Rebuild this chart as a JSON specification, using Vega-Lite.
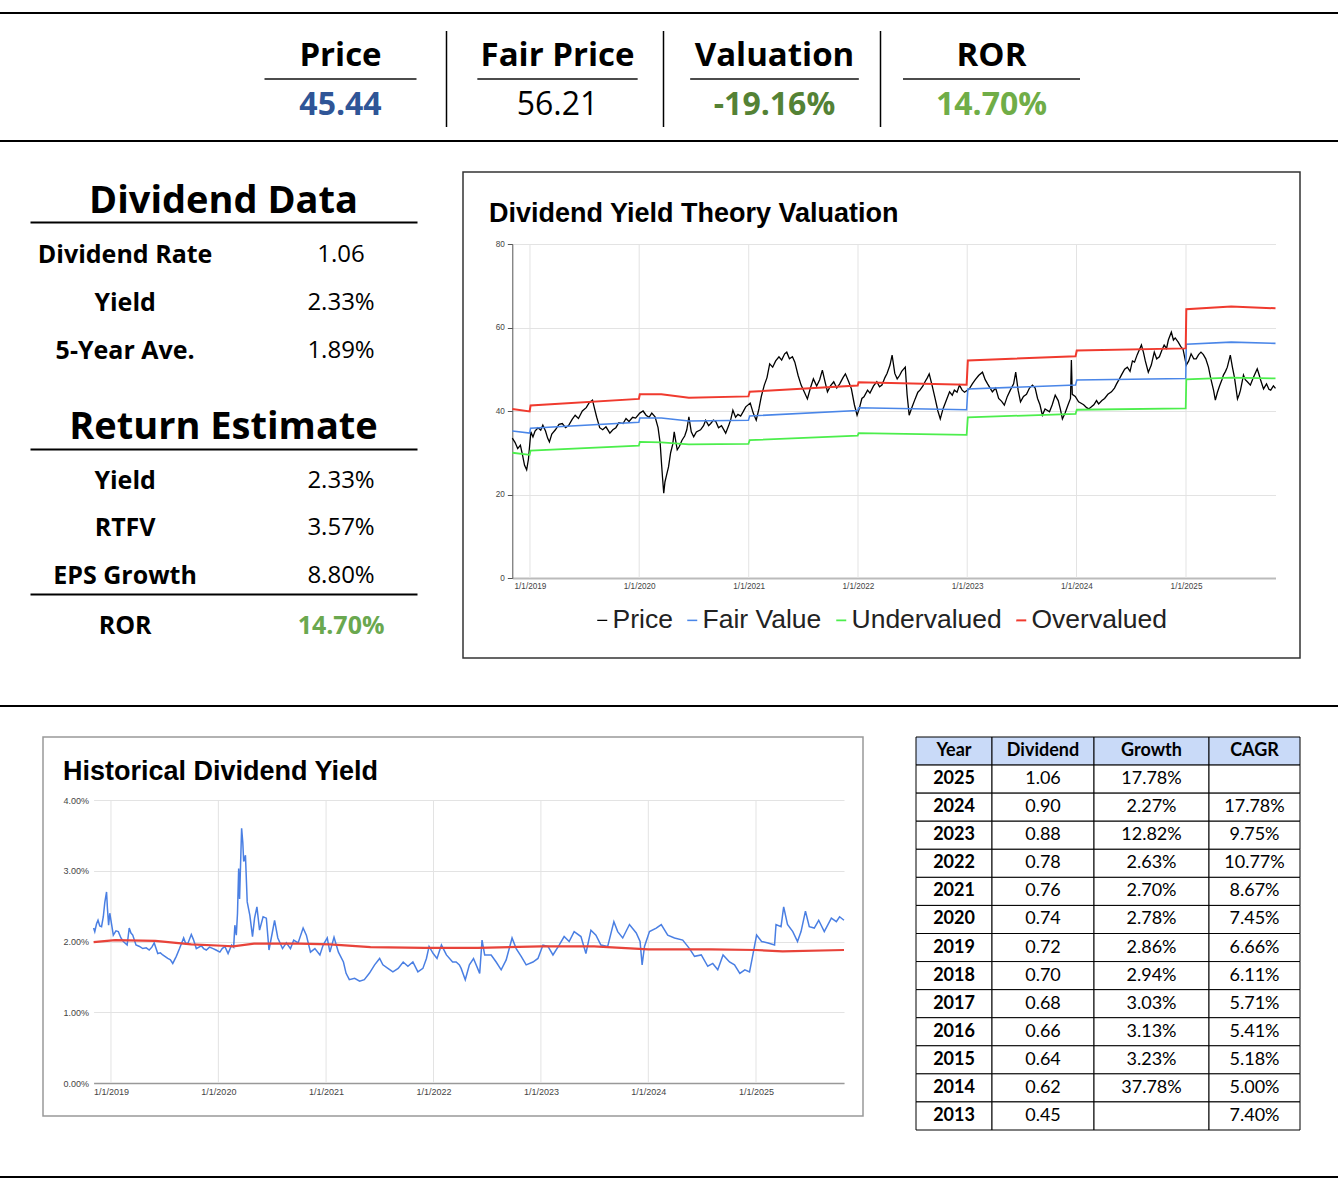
{
  "$schema": "https://vega.github.io/schema/vega-lite/v6.json",
  "padding": 0,
  "background": "white",
  "spacing": 0,
  "bounds": "full",
  "resolve": {"scale": {"color": "independent", "size": "independent", "strokeWidth": "independent"}, "legend": {"color": "independent"}},
  "config": {"view": {"stroke": null}, "font": "Liberation Sans"},
  "datasets": {
    "header": [
      {"metric": "Price", "value": "45.44"},
      {"metric": "Fair Price", "value": "56.21"},
      {"metric": "Valuation", "value": "-19.16%"},
      {"metric": "ROR", "value": "14.70%"}
    ],
    "dividendData": [
      {"section": "Dividend Data", "item": "Dividend Rate", "value": "1.06"},
      {"section": "Dividend Data", "item": "Yield", "value": "2.33%"},
      {"section": "Dividend Data", "item": "5-Year Ave.", "value": "1.89%"},
      {"section": "Return Estimate", "item": "Yield", "value": "2.33%"},
      {"section": "Return Estimate", "item": "RTFV", "value": "3.57%"},
      {"section": "Return Estimate", "item": "EPS Growth", "value": "8.80%"},
      {"section": "Total", "item": "ROR", "value": "14.70%"}
    ],
    "yearStarts": [
      {"date": "2019-01-01"}, {"date": "2020-01-01"}, {"date": "2021-01-01"}, {"date": "2022-01-01"}, {"date": "2023-01-01"}, {"date": "2024-01-01"}, {"date": "2025-01-01"}
    ],
    "dyt": [
      {"series":"Price","date":"2018-11-03","value":33.5},{"series":"Price","date":"2018-11-12","value":32.5},{"series":"Price","date":"2018-11-21","value":31},{"series":"Price","date":"2018-11-30","value":31.8},{"series":"Price","date":"2018-12-07","value":29.5},{"series":"Price","date":"2018-12-14","value":27},{"series":"Price","date":"2018-12-21","value":25.9},{"series":"Price","date":"2018-12-27","value":28.5},
      {"series":"Price","date":"2019-01-04","value":35},{"series":"Price","date":"2019-01-11","value":33.8},{"series":"Price","date":"2019-01-18","value":35.2},{"series":"Price","date":"2019-01-28","value":36},{"series":"Price","date":"2019-02-06","value":35.4},{"series":"Price","date":"2019-02-13","value":36.6},{"series":"Price","date":"2019-02-22","value":35.2},{"series":"Price","date":"2019-03-01","value":33.5},{"series":"Price","date":"2019-03-07","value":32.6},{"series":"Price","date":"2019-03-15","value":34.5},{"series":"Price","date":"2019-03-27","value":35.5},{"series":"Price","date":"2019-04-08","value":36.8},{"series":"Price","date":"2019-04-19","value":37},{"series":"Price","date":"2019-04-30","value":36},{"series":"Price","date":"2019-05-10","value":36.5},{"series":"Price","date":"2019-05-22","value":38},{"series":"Price","date":"2019-06-01","value":39},{"series":"Price","date":"2019-06-12","value":38.2},{"series":"Price","date":"2019-06-25","value":40},{"series":"Price","date":"2019-07-08","value":40.8},{"series":"Price","date":"2019-07-18","value":42},{"series":"Price","date":"2019-07-29","value":42.6},{"series":"Price","date":"2019-08-05","value":40.5},{"series":"Price","date":"2019-08-12","value":38.5},{"series":"Price","date":"2019-08-22","value":36},{"series":"Price","date":"2019-09-01","value":35.5},{"series":"Price","date":"2019-09-12","value":36.2},{"series":"Price","date":"2019-09-25","value":34.7},{"series":"Price","date":"2019-10-05","value":35.5},{"series":"Price","date":"2019-10-15","value":36},{"series":"Price","date":"2019-10-25","value":37.2},{"series":"Price","date":"2019-11-08","value":37},{"series":"Price","date":"2019-11-18","value":38.2},{"series":"Price","date":"2019-11-28","value":37.5},{"series":"Price","date":"2019-12-10","value":38.5},{"series":"Price","date":"2019-12-20","value":38.3},
      {"series":"Price","date":"2020-01-03","value":39.5},{"series":"Price","date":"2020-01-14","value":40},{"series":"Price","date":"2020-01-24","value":39},{"series":"Price","date":"2020-02-03","value":38.5},{"series":"Price","date":"2020-02-12","value":39.5},{"series":"Price","date":"2020-02-23","value":38.6},{"series":"Price","date":"2020-03-04","value":36},{"series":"Price","date":"2020-03-11","value":32.3},{"series":"Price","date":"2020-03-16","value":27},{"series":"Price","date":"2020-03-19","value":24},{"series":"Price","date":"2020-03-23","value":20.3},{"series":"Price","date":"2020-03-27","value":23},{"series":"Price","date":"2020-04-01","value":24.5},{"series":"Price","date":"2020-04-08","value":26.6},{"series":"Price","date":"2020-04-15","value":30},{"series":"Price","date":"2020-04-22","value":32},{"series":"Price","date":"2020-04-27","value":35},{"series":"Price","date":"2020-05-07","value":30.7},{"series":"Price","date":"2020-05-14","value":31.5},{"series":"Price","date":"2020-05-23","value":33},{"series":"Price","date":"2020-06-01","value":34},{"series":"Price","date":"2020-06-08","value":35.5},{"series":"Price","date":"2020-06-15","value":38.6},{"series":"Price","date":"2020-06-23","value":35},{"series":"Price","date":"2020-07-01","value":33.8},{"series":"Price","date":"2020-07-10","value":35},{"series":"Price","date":"2020-07-24","value":35.5},{"series":"Price","date":"2020-08-03","value":36.5},{"series":"Price","date":"2020-08-10","value":37.8},{"series":"Price","date":"2020-08-20","value":36.5},{"series":"Price","date":"2020-08-27","value":37},{"series":"Price","date":"2020-09-05","value":37.8},{"series":"Price","date":"2020-09-13","value":37.5},{"series":"Price","date":"2020-09-22","value":36},{"series":"Price","date":"2020-10-02","value":36.5},{"series":"Price","date":"2020-10-16","value":34.7},{"series":"Price","date":"2020-10-26","value":36.5},{"series":"Price","date":"2020-11-02","value":38},{"series":"Price","date":"2020-11-09","value":40.2},{"series":"Price","date":"2020-11-18","value":38.5},{"series":"Price","date":"2020-11-26","value":39.2},{"series":"Price","date":"2020-12-05","value":38.8},{"series":"Price","date":"2020-12-13","value":39.8},{"series":"Price","date":"2020-12-22","value":41},
      {"series":"Price","date":"2021-01-06","value":41.9},{"series":"Price","date":"2021-01-16","value":39.5},{"series":"Price","date":"2021-01-26","value":37.8},{"series":"Price","date":"2021-02-04","value":40.5},{"series":"Price","date":"2021-02-12","value":43.5},{"series":"Price","date":"2021-02-22","value":46.2},{"series":"Price","date":"2021-03-03","value":48},{"series":"Price","date":"2021-03-12","value":51.3},{"series":"Price","date":"2021-03-22","value":50.5},{"series":"Price","date":"2021-04-01","value":52},{"series":"Price","date":"2021-04-12","value":53},{"series":"Price","date":"2021-04-21","value":52.2},{"series":"Price","date":"2021-05-01","value":53.7},{"series":"Price","date":"2021-05-08","value":54.1},{"series":"Price","date":"2021-05-17","value":52.5},{"series":"Price","date":"2021-05-27","value":53},{"series":"Price","date":"2021-06-04","value":51.7},{"series":"Price","date":"2021-06-15","value":48.5},{"series":"Price","date":"2021-06-25","value":46.2},{"series":"Price","date":"2021-07-06","value":44.5},{"series":"Price","date":"2021-07-16","value":42.9},{"series":"Price","date":"2021-07-26","value":45.5},{"series":"Price","date":"2021-08-05","value":47.7},{"series":"Price","date":"2021-08-16","value":46},{"series":"Price","date":"2021-08-26","value":47.5},{"series":"Price","date":"2021-09-04","value":49.8},{"series":"Price","date":"2021-09-13","value":47},{"series":"Price","date":"2021-09-21","value":44.6},{"series":"Price","date":"2021-10-01","value":46},{"series":"Price","date":"2021-10-12","value":47},{"series":"Price","date":"2021-10-22","value":45.5},{"series":"Price","date":"2021-11-01","value":46.5},{"series":"Price","date":"2021-11-12","value":48},{"series":"Price","date":"2021-11-20","value":48.9},{"series":"Price","date":"2021-12-01","value":47},{"series":"Price","date":"2021-12-10","value":45.3},{"series":"Price","date":"2021-12-20","value":41.5},{"series":"Price","date":"2021-12-29","value":39},
      {"series":"Price","date":"2022-01-05","value":40.5},{"series":"Price","date":"2022-01-14","value":43},{"series":"Price","date":"2022-01-21","value":43.4},{"series":"Price","date":"2022-02-02","value":45},{"series":"Price","date":"2022-02-10","value":44.3},{"series":"Price","date":"2022-02-22","value":46},{"series":"Price","date":"2022-03-05","value":47},{"series":"Price","date":"2022-03-14","value":45.8},{"series":"Price","date":"2022-03-22","value":46.2},{"series":"Price","date":"2022-04-01","value":48},{"series":"Price","date":"2022-04-08","value":49},{"series":"Price","date":"2022-04-18","value":51},{"series":"Price","date":"2022-04-25","value":53.4},{"series":"Price","date":"2022-05-04","value":49},{"series":"Price","date":"2022-05-12","value":47.7},{"series":"Price","date":"2022-05-20","value":48.5},{"series":"Price","date":"2022-05-27","value":49.5},{"series":"Price","date":"2022-06-08","value":50.5},{"series":"Price","date":"2022-06-14","value":44},{"series":"Price","date":"2022-06-21","value":39},{"series":"Price","date":"2022-07-01","value":41},{"series":"Price","date":"2022-07-11","value":42.9},{"series":"Price","date":"2022-07-20","value":44.5},{"series":"Price","date":"2022-07-27","value":45},{"series":"Price","date":"2022-08-06","value":46},{"series":"Price","date":"2022-08-13","value":47},{"series":"Price","date":"2022-08-21","value":48},{"series":"Price","date":"2022-08-27","value":48.9},{"series":"Price","date":"2022-09-06","value":46},{"series":"Price","date":"2022-09-16","value":42.9},{"series":"Price","date":"2022-09-25","value":40},{"series":"Price","date":"2022-10-03","value":38.1},{"series":"Price","date":"2022-10-12","value":40.5},{"series":"Price","date":"2022-10-20","value":42},{"series":"Price","date":"2022-11-03","value":44.6},{"series":"Price","date":"2022-11-12","value":43.8},{"series":"Price","date":"2022-11-19","value":45},{"series":"Price","date":"2022-11-28","value":44.5},{"series":"Price","date":"2022-12-06","value":46.2},{"series":"Price","date":"2022-12-15","value":45},{"series":"Price","date":"2022-12-23","value":44.5},
      {"series":"Price","date":"2023-01-08","value":45.3},{"series":"Price","date":"2023-01-18","value":46.5},{"series":"Price","date":"2023-01-28","value":47.5},{"series":"Price","date":"2023-02-08","value":48.5},{"series":"Price","date":"2023-02-21","value":49.3},{"series":"Price","date":"2023-03-02","value":47.5},{"series":"Price","date":"2023-03-10","value":46.5},{"series":"Price","date":"2023-03-26","value":44.6},{"series":"Price","date":"2023-04-06","value":45.5},{"series":"Price","date":"2023-04-16","value":43},{"series":"Price","date":"2023-04-26","value":42.3},{"series":"Price","date":"2023-05-05","value":41.4},{"series":"Price","date":"2023-05-15","value":43.5},{"series":"Price","date":"2023-05-25","value":45},{"series":"Price","date":"2023-06-05","value":46.5},{"series":"Price","date":"2023-06-12","value":49.3},{"series":"Price","date":"2023-06-20","value":45},{"series":"Price","date":"2023-06-28","value":42.2},{"series":"Price","date":"2023-07-08","value":43.5},{"series":"Price","date":"2023-07-18","value":44},{"series":"Price","date":"2023-07-28","value":45.5},{"series":"Price","date":"2023-08-07","value":46.2},{"series":"Price","date":"2023-08-16","value":45.5},{"series":"Price","date":"2023-08-24","value":43},{"series":"Price","date":"2023-09-01","value":41.5},{"series":"Price","date":"2023-09-09","value":39},{"series":"Price","date":"2023-09-18","value":40.5},{"series":"Price","date":"2023-10-03","value":39.8},{"series":"Price","date":"2023-10-12","value":41.5},{"series":"Price","date":"2023-10-22","value":43.8},{"series":"Price","date":"2023-11-01","value":42.5},{"series":"Price","date":"2023-11-08","value":40.5},{"series":"Price","date":"2023-11-15","value":38.1},{"series":"Price","date":"2023-11-24","value":39.5},{"series":"Price","date":"2023-12-04","value":41.5},{"series":"Price","date":"2023-12-12","value":43},{"series":"Price","date":"2023-12-15","value":52.2},{"series":"Price","date":"2023-12-18","value":44},{"series":"Price","date":"2023-12-28","value":43.5},
      {"series":"Price","date":"2024-01-08","value":42.2},{"series":"Price","date":"2024-01-18","value":41.8},{"series":"Price","date":"2024-01-25","value":41.5},{"series":"Price","date":"2024-02-04","value":40.8},{"series":"Price","date":"2024-02-11","value":40.5},{"series":"Price","date":"2024-02-20","value":41},{"series":"Price","date":"2024-02-28","value":41.5},{"series":"Price","date":"2024-03-08","value":42.5},{"series":"Price","date":"2024-03-15","value":41.7},{"series":"Price","date":"2024-03-26","value":42.5},{"series":"Price","date":"2024-04-04","value":43},{"series":"Price","date":"2024-04-15","value":44},{"series":"Price","date":"2024-04-27","value":44.6},{"series":"Price","date":"2024-05-07","value":45.5},{"series":"Price","date":"2024-05-14","value":46.5},{"series":"Price","date":"2024-05-22","value":47.5},{"series":"Price","date":"2024-05-30","value":48.6},{"series":"Price","date":"2024-06-10","value":50},{"series":"Price","date":"2024-06-19","value":50.5},{"series":"Price","date":"2024-06-28","value":49.5},{"series":"Price","date":"2024-07-06","value":52},{"series":"Price","date":"2024-07-13","value":51.7},{"series":"Price","date":"2024-07-22","value":53.5},{"series":"Price","date":"2024-08-05","value":55.8},{"series":"Price","date":"2024-08-12","value":54},{"series":"Price","date":"2024-08-18","value":52},{"series":"Price","date":"2024-08-28","value":49.3},{"series":"Price","date":"2024-09-07","value":51},{"series":"Price","date":"2024-09-17","value":54.1},{"series":"Price","date":"2024-09-25","value":52.5},{"series":"Price","date":"2024-10-04","value":53},{"series":"Price","date":"2024-10-12","value":54.5},{"series":"Price","date":"2024-10-20","value":55.8},{"series":"Price","date":"2024-10-28","value":55},{"series":"Price","date":"2024-11-03","value":57},{"series":"Price","date":"2024-11-13","value":58.9},{"series":"Price","date":"2024-11-20","value":57},{"series":"Price","date":"2024-11-26","value":57.5},{"series":"Price","date":"2024-12-06","value":56.5},{"series":"Price","date":"2024-12-14","value":55.5},{"series":"Price","date":"2024-12-22","value":54.8},
      {"series":"Price","date":"2025-01-02","value":51},{"series":"Price","date":"2025-01-10","value":52},{"series":"Price","date":"2025-01-18","value":53.7},{"series":"Price","date":"2025-01-27","value":52.5},{"series":"Price","date":"2025-02-04","value":52.5},{"series":"Price","date":"2025-02-12","value":53.5},{"series":"Price","date":"2025-02-20","value":54.1},{"series":"Price","date":"2025-02-28","value":53.5},{"series":"Price","date":"2025-03-08","value":52.5},{"series":"Price","date":"2025-03-17","value":50.5},{"series":"Price","date":"2025-03-25","value":47.7},{"series":"Price","date":"2025-04-03","value":45},{"series":"Price","date":"2025-04-09","value":42.6},{"series":"Price","date":"2025-04-16","value":44.5},{"series":"Price","date":"2025-04-23","value":46},{"series":"Price","date":"2025-05-01","value":47.5},{"series":"Price","date":"2025-05-06","value":48.6},{"series":"Price","date":"2025-05-13","value":49.5},{"series":"Price","date":"2025-05-19","value":50.5},{"series":"Price","date":"2025-05-29","value":53.4},{"series":"Price","date":"2025-06-05","value":50.5},{"series":"Price","date":"2025-06-12","value":48},{"series":"Price","date":"2025-06-22","value":42.9},{"series":"Price","date":"2025-06-28","value":44},{"series":"Price","date":"2025-07-02","value":45},{"series":"Price","date":"2025-07-12","value":48.6},{"series":"Price","date":"2025-07-18","value":47.5},{"series":"Price","date":"2025-07-25","value":47},{"series":"Price","date":"2025-08-04","value":46.2},{"series":"Price","date":"2025-08-11","value":47.5},{"series":"Price","date":"2025-08-17","value":48.5},{"series":"Price","date":"2025-08-27","value":50.1},{"series":"Price","date":"2025-09-03","value":48.5},{"series":"Price","date":"2025-09-07","value":47.5},{"series":"Price","date":"2025-09-17","value":45.3},{"series":"Price","date":"2025-09-27","value":46.5},{"series":"Price","date":"2025-10-05","value":45.2},{"series":"Price","date":"2025-10-11","value":45},{"series":"Price","date":"2025-10-20","value":46},{"series":"Price","date":"2025-10-27","value":45.4},
      {"series":"Fair Value","date":"2018-11-03","value":35.2},{"series":"Fair Value","date":"2018-12-31","value":34.7},{"series":"Fair Value","date":"2019-01-03","value":35.9},{"series":"Fair Value","date":"2019-12-31","value":37.3},{"series":"Fair Value","date":"2020-01-03","value":38.3},{"series":"Fair Value","date":"2020-03-15","value":38.3},{"series":"Fair Value","date":"2020-06-15","value":37.6},{"series":"Fair Value","date":"2020-12-31","value":37.8},{"series":"Fair Value","date":"2021-01-04","value":38.8},{"series":"Fair Value","date":"2021-12-31","value":40.1},{"series":"Fair Value","date":"2022-01-03","value":40.8},{"series":"Fair Value","date":"2022-12-30","value":40.3},{"series":"Fair Value","date":"2023-01-03","value":45.3},{"series":"Fair Value","date":"2023-12-29","value":46.2},{"series":"Fair Value","date":"2024-01-02","value":47.4},{"series":"Fair Value","date":"2024-12-31","value":47.8},{"series":"Fair Value","date":"2025-01-02","value":56.0},{"series":"Fair Value","date":"2025-06-01","value":56.5},{"series":"Fair Value","date":"2025-10-27","value":56.2},
      {"series":"Undervalued","date":"2018-11-03","value":30.0},{"series":"Undervalued","date":"2018-12-31","value":29.5},{"series":"Undervalued","date":"2019-01-03","value":30.5},{"series":"Undervalued","date":"2019-12-31","value":31.7},{"series":"Undervalued","date":"2020-01-03","value":32.6},{"series":"Undervalued","date":"2020-03-15","value":32.5},{"series":"Undervalued","date":"2020-06-15","value":32.0},{"series":"Undervalued","date":"2020-12-31","value":32.1},{"series":"Undervalued","date":"2021-01-04","value":33.0},{"series":"Undervalued","date":"2021-12-31","value":34.1},{"series":"Undervalued","date":"2022-01-03","value":34.7},{"series":"Undervalued","date":"2022-12-30","value":34.3},{"series":"Undervalued","date":"2023-01-03","value":38.5},{"series":"Undervalued","date":"2023-12-29","value":39.3},{"series":"Undervalued","date":"2024-01-02","value":40.3},{"series":"Undervalued","date":"2024-12-31","value":40.6},{"series":"Undervalued","date":"2025-01-02","value":47.6},{"series":"Undervalued","date":"2025-06-01","value":48.0},{"series":"Undervalued","date":"2025-10-27","value":47.8},
      {"series":"Overvalued","date":"2018-11-03","value":40.5},{"series":"Overvalued","date":"2018-12-31","value":39.9},{"series":"Overvalued","date":"2019-01-03","value":41.3},{"series":"Overvalued","date":"2019-12-31","value":42.9},{"series":"Overvalued","date":"2020-01-03","value":44.0},{"series":"Overvalued","date":"2020-03-15","value":44.0},{"series":"Overvalued","date":"2020-06-15","value":43.2},{"series":"Overvalued","date":"2020-12-31","value":43.5},{"series":"Overvalued","date":"2021-01-04","value":44.6},{"series":"Overvalued","date":"2021-12-31","value":46.1},{"series":"Overvalued","date":"2022-01-03","value":46.9},{"series":"Overvalued","date":"2022-12-30","value":46.3},{"series":"Overvalued","date":"2023-01-03","value":52.1},{"series":"Overvalued","date":"2023-12-29","value":53.1},{"series":"Overvalued","date":"2024-01-02","value":54.5},{"series":"Overvalued","date":"2024-12-31","value":55.0},{"series":"Overvalued","date":"2025-01-02","value":64.4},{"series":"Overvalued","date":"2025-06-01","value":65.0},{"series":"Overvalued","date":"2025-10-27","value":64.6}
    ],
    "hdy": [
      {"series":"Dividend Yield","date":"2018-11-03","yield":0.0219},{"series":"Dividend Yield","date":"2018-11-07","yield":0.0214},{"series":"Dividend Yield","date":"2018-11-13","yield":0.0225},{"series":"Dividend Yield","date":"2018-11-18","yield":0.0230},{"series":"Dividend Yield","date":"2018-11-24","yield":0.0222},{"series":"Dividend Yield","date":"2018-11-30","yield":0.0221},{"series":"Dividend Yield","date":"2018-12-06","yield":0.0235},{"series":"Dividend Yield","date":"2018-12-11","yield":0.0255},{"series":"Dividend Yield","date":"2018-12-17","yield":0.0270},{"series":"Dividend Yield","date":"2018-12-20","yield":0.0247},{"series":"Dividend Yield","date":"2018-12-24","yield":0.0223},{"series":"Dividend Yield","date":"2018-12-28","yield":0.0240},
      {"series":"Dividend Yield","date":"2019-01-01","yield":0.0230},{"series":"Dividend Yield","date":"2019-01-09","yield":0.0209},{"series":"Dividend Yield","date":"2019-01-18","yield":0.0215},{"series":"Dividend Yield","date":"2019-01-26","yield":0.0214},{"series":"Dividend Yield","date":"2019-02-04","yield":0.0205},{"series":"Dividend Yield","date":"2019-02-12","yield":0.0200},{"series":"Dividend Yield","date":"2019-02-25","yield":0.0195},{"series":"Dividend Yield","date":"2019-03-04","yield":0.0219},{"series":"Dividend Yield","date":"2019-03-10","yield":0.0212},{"series":"Dividend Yield","date":"2019-03-16","yield":0.0209},{"series":"Dividend Yield","date":"2019-03-27","yield":0.0195},{"series":"Dividend Yield","date":"2019-04-08","yield":0.0193},{"series":"Dividend Yield","date":"2019-04-19","yield":0.0190},{"series":"Dividend Yield","date":"2019-05-01","yield":0.0191},{"series":"Dividend Yield","date":"2019-05-11","yield":0.0188},{"series":"Dividend Yield","date":"2019-05-20","yield":0.0192},{"series":"Dividend Yield","date":"2019-05-28","yield":0.0198},{"series":"Dividend Yield","date":"2019-06-09","yield":0.0183},{"series":"Dividend Yield","date":"2019-06-18","yield":0.0184},{"series":"Dividend Yield","date":"2019-06-26","yield":0.0181},{"series":"Dividend Yield","date":"2019-07-13","yield":0.0176},{"series":"Dividend Yield","date":"2019-07-22","yield":0.0174},{"series":"Dividend Yield","date":"2019-07-30","yield":0.0169},{"series":"Dividend Yield","date":"2019-08-11","yield":0.0179},{"series":"Dividend Yield","date":"2019-08-22","yield":0.0190},{"series":"Dividend Yield","date":"2019-09-05","yield":0.0205},{"series":"Dividend Yield","date":"2019-09-12","yield":0.0197},{"series":"Dividend Yield","date":"2019-09-20","yield":0.0198},{"series":"Dividend Yield","date":"2019-10-01","yield":0.0210},{"series":"Dividend Yield","date":"2019-10-08","yield":0.0203},{"series":"Dividend Yield","date":"2019-10-18","yield":0.0190},{"series":"Dividend Yield","date":"2019-11-04","yield":0.0194},{"series":"Dividend Yield","date":"2019-11-12","yield":0.0190},{"series":"Dividend Yield","date":"2019-11-21","yield":0.0188},{"series":"Dividend Yield","date":"2019-12-02","yield":0.0192},{"series":"Dividend Yield","date":"2019-12-14","yield":0.0190},{"series":"Dividend Yield","date":"2019-12-24","yield":0.0188},
      {"series":"Dividend Yield","date":"2020-01-06","yield":0.0185},{"series":"Dividend Yield","date":"2020-01-14","yield":0.0190},{"series":"Dividend Yield","date":"2020-01-23","yield":0.0193},{"series":"Dividend Yield","date":"2020-02-03","yield":0.0183},{"series":"Dividend Yield","date":"2020-02-15","yield":0.0195},{"series":"Dividend Yield","date":"2020-02-22","yield":0.0192},{"series":"Dividend Yield","date":"2020-02-26","yield":0.0223},{"series":"Dividend Yield","date":"2020-03-02","yield":0.0209},{"series":"Dividend Yield","date":"2020-03-06","yield":0.0240},{"series":"Dividend Yield","date":"2020-03-10","yield":0.0303},{"series":"Dividend Yield","date":"2020-03-13","yield":0.0260},{"series":"Dividend Yield","date":"2020-03-20","yield":0.0360},{"series":"Dividend Yield","date":"2020-03-24","yield":0.0340},{"series":"Dividend Yield","date":"2020-03-27","yield":0.0313},{"series":"Dividend Yield","date":"2020-04-02","yield":0.0322},{"series":"Dividend Yield","date":"2020-04-08","yield":0.0256},{"series":"Dividend Yield","date":"2020-04-17","yield":0.0237},{"series":"Dividend Yield","date":"2020-04-26","yield":0.0207},{"series":"Dividend Yield","date":"2020-05-03","yield":0.0233},{"series":"Dividend Yield","date":"2020-05-11","yield":0.0249},{"series":"Dividend Yield","date":"2020-05-20","yield":0.0216},{"series":"Dividend Yield","date":"2020-06-01","yield":0.0235},{"series":"Dividend Yield","date":"2020-06-12","yield":0.0233},{"series":"Dividend Yield","date":"2020-06-21","yield":0.0188},{"series":"Dividend Yield","date":"2020-07-02","yield":0.0212},{"series":"Dividend Yield","date":"2020-07-10","yield":0.0230},{"series":"Dividend Yield","date":"2020-07-21","yield":0.0205},{"series":"Dividend Yield","date":"2020-08-06","yield":0.0190},{"series":"Dividend Yield","date":"2020-08-19","yield":0.0198},{"series":"Dividend Yield","date":"2020-09-02","yield":0.0190},{"series":"Dividend Yield","date":"2020-09-13","yield":0.0202},{"series":"Dividend Yield","date":"2020-09-28","yield":0.0198},{"series":"Dividend Yield","date":"2020-10-15","yield":0.0219},{"series":"Dividend Yield","date":"2020-10-26","yield":0.0209},{"series":"Dividend Yield","date":"2020-11-09","yield":0.0185},{"series":"Dividend Yield","date":"2020-11-24","yield":0.0190},{"series":"Dividend Yield","date":"2020-12-11","yield":0.0181},{"series":"Dividend Yield","date":"2020-12-22","yield":0.0195},
      {"series":"Dividend Yield","date":"2021-01-05","yield":0.0205},{"series":"Dividend Yield","date":"2021-01-14","yield":0.0185},{"series":"Dividend Yield","date":"2021-01-28","yield":0.0206},{"series":"Dividend Yield","date":"2021-02-12","yield":0.0185},{"series":"Dividend Yield","date":"2021-03-01","yield":0.0171},{"series":"Dividend Yield","date":"2021-03-10","yield":0.0155},{"series":"Dividend Yield","date":"2021-03-21","yield":0.0146},{"series":"Dividend Yield","date":"2021-04-08","yield":0.0148},{"series":"Dividend Yield","date":"2021-04-25","yield":0.0144},{"series":"Dividend Yield","date":"2021-05-11","yield":0.0146},{"series":"Dividend Yield","date":"2021-05-28","yield":0.0155},{"series":"Dividend Yield","date":"2021-06-15","yield":0.0167},{"series":"Dividend Yield","date":"2021-07-02","yield":0.0176},{"series":"Dividend Yield","date":"2021-07-13","yield":0.0167},{"series":"Dividend Yield","date":"2021-07-30","yield":0.0162},{"series":"Dividend Yield","date":"2021-08-16","yield":0.0157},{"series":"Dividend Yield","date":"2021-09-03","yield":0.0162},{"series":"Dividend Yield","date":"2021-09-20","yield":0.0171},{"series":"Dividend Yield","date":"2021-10-06","yield":0.0165},{"series":"Dividend Yield","date":"2021-10-23","yield":0.0171},{"series":"Dividend Yield","date":"2021-11-09","yield":0.0157},{"series":"Dividend Yield","date":"2021-11-26","yield":0.0162},{"series":"Dividend Yield","date":"2021-12-08","yield":0.0176},{"series":"Dividend Yield","date":"2021-12-17","yield":0.0193},{"series":"Dividend Yield","date":"2021-12-31","yield":0.0183},
      {"series":"Dividend Yield","date":"2022-01-13","yield":0.0176},{"series":"Dividend Yield","date":"2022-01-28","yield":0.0195},{"series":"Dividend Yield","date":"2022-02-14","yield":0.0181},{"series":"Dividend Yield","date":"2022-03-07","yield":0.0171},{"series":"Dividend Yield","date":"2022-03-19","yield":0.0171},{"series":"Dividend Yield","date":"2022-03-30","yield":0.0167},{"series":"Dividend Yield","date":"2022-04-05","yield":0.0162},{"series":"Dividend Yield","date":"2022-04-19","yield":0.0146},{"series":"Dividend Yield","date":"2022-05-03","yield":0.0167},{"series":"Dividend Yield","date":"2022-05-17","yield":0.0176},{"series":"Dividend Yield","date":"2022-06-07","yield":0.0155},{"series":"Dividend Yield","date":"2022-06-15","yield":0.0202},{"series":"Dividend Yield","date":"2022-06-24","yield":0.0181},{"series":"Dividend Yield","date":"2022-07-16","yield":0.0181},{"series":"Dividend Yield","date":"2022-08-02","yield":0.0171},{"series":"Dividend Yield","date":"2022-08-19","yield":0.0160},{"series":"Dividend Yield","date":"2022-09-05","yield":0.0174},{"series":"Dividend Yield","date":"2022-09-25","yield":0.0205},{"series":"Dividend Yield","date":"2022-10-09","yield":0.0190},{"series":"Dividend Yield","date":"2022-10-26","yield":0.0179},{"series":"Dividend Yield","date":"2022-11-12","yield":0.0167},{"series":"Dividend Yield","date":"2022-12-05","yield":0.0171},{"series":"Dividend Yield","date":"2022-12-22","yield":0.0176},
      {"series":"Dividend Yield","date":"2023-01-08","yield":0.0195},{"series":"Dividend Yield","date":"2023-01-25","yield":0.0193},{"series":"Dividend Yield","date":"2023-02-11","yield":0.0181},{"series":"Dividend Yield","date":"2023-03-04","yield":0.0195},{"series":"Dividend Yield","date":"2023-03-21","yield":0.0207},{"series":"Dividend Yield","date":"2023-04-07","yield":0.0200},{"series":"Dividend Yield","date":"2023-04-24","yield":0.0214},{"series":"Dividend Yield","date":"2023-05-17","yield":0.0207},{"series":"Dividend Yield","date":"2023-06-03","yield":0.0183},{"series":"Dividend Yield","date":"2023-06-20","yield":0.0216},{"series":"Dividend Yield","date":"2023-07-07","yield":0.0209},{"series":"Dividend Yield","date":"2023-07-24","yield":0.0195},{"series":"Dividend Yield","date":"2023-08-16","yield":0.0193},{"series":"Dividend Yield","date":"2023-09-06","yield":0.0228},{"series":"Dividend Yield","date":"2023-09-19","yield":0.0214},{"series":"Dividend Yield","date":"2023-10-06","yield":0.0205},{"series":"Dividend Yield","date":"2023-10-29","yield":0.0224},{"series":"Dividend Yield","date":"2023-11-21","yield":0.0212},{"series":"Dividend Yield","date":"2023-12-04","yield":0.0200},{"series":"Dividend Yield","date":"2023-12-11","yield":0.0167},{"series":"Dividend Yield","date":"2023-12-19","yield":0.0193},
      {"series":"Dividend Yield","date":"2024-01-05","yield":0.0214},{"series":"Dividend Yield","date":"2024-01-28","yield":0.0219},{"series":"Dividend Yield","date":"2024-02-14","yield":0.0224},{"series":"Dividend Yield","date":"2024-03-07","yield":0.0209},{"series":"Dividend Yield","date":"2024-03-30","yield":0.0205},{"series":"Dividend Yield","date":"2024-04-27","yield":0.0202},{"series":"Dividend Yield","date":"2024-05-20","yield":0.0190},{"series":"Dividend Yield","date":"2024-06-06","yield":0.0179},{"series":"Dividend Yield","date":"2024-06-29","yield":0.0181},{"series":"Dividend Yield","date":"2024-07-21","yield":0.0165},{"series":"Dividend Yield","date":"2024-08-07","yield":0.0169},{"series":"Dividend Yield","date":"2024-08-24","yield":0.0160},{"series":"Dividend Yield","date":"2024-09-11","yield":0.0181},{"series":"Dividend Yield","date":"2024-10-03","yield":0.0171},{"series":"Dividend Yield","date":"2024-10-20","yield":0.0167},{"series":"Dividend Yield","date":"2024-11-07","yield":0.0155},{"series":"Dividend Yield","date":"2024-11-24","yield":0.0160},{"series":"Dividend Yield","date":"2024-12-10","yield":0.0157},{"series":"Dividend Yield","date":"2024-12-19","yield":0.0176},
      {"series":"Dividend Yield","date":"2025-01-03","yield":0.0209},{"series":"Dividend Yield","date":"2025-01-20","yield":0.0200},{"series":"Dividend Yield","date":"2025-02-11","yield":0.0198},{"series":"Dividend Yield","date":"2025-03-05","yield":0.0195},{"series":"Dividend Yield","date":"2025-03-10","yield":0.0224},{"series":"Dividend Yield","date":"2025-03-27","yield":0.0221},{"series":"Dividend Yield","date":"2025-04-05","yield":0.0249},{"series":"Dividend Yield","date":"2025-04-18","yield":0.0224},{"series":"Dividend Yield","date":"2025-05-06","yield":0.0214},{"series":"Dividend Yield","date":"2025-05-22","yield":0.0200},{"series":"Dividend Yield","date":"2025-06-03","yield":0.0214},{"series":"Dividend Yield","date":"2025-06-18","yield":0.0243},{"series":"Dividend Yield","date":"2025-07-01","yield":0.0221},{"series":"Dividend Yield","date":"2025-07-18","yield":0.0219},{"series":"Dividend Yield","date":"2025-08-02","yield":0.0230},{"series":"Dividend Yield","date":"2025-08-21","yield":0.0214},{"series":"Dividend Yield","date":"2025-09-14","yield":0.0233},{"series":"Dividend Yield","date":"2025-10-01","yield":0.0228},{"series":"Dividend Yield","date":"2025-10-12","yield":0.0235},{"series":"Dividend Yield","date":"2025-10-27","yield":0.0230},
      {"series":"5-Year Average","date":"2018-11-03","yield":0.0199},{"series":"5-Year Average","date":"2019-01-15","yield":0.0202},{"series":"5-Year Average","date":"2019-06-01","yield":0.0201},{"series":"5-Year Average","date":"2019-10-01","yield":0.0196},{"series":"5-Year Average","date":"2020-01-15","yield":0.0194},{"series":"5-Year Average","date":"2020-02-20","yield":0.0193},{"series":"5-Year Average","date":"2020-05-01","yield":0.0197},{"series":"5-Year Average","date":"2020-10-01","yield":0.0197},{"series":"5-Year Average","date":"2021-01-15","yield":0.0196},{"series":"5-Year Average","date":"2021-06-01","yield":0.0192},{"series":"5-Year Average","date":"2021-12-01","yield":0.0191},{"series":"5-Year Average","date":"2022-06-01","yield":0.0191},{"series":"5-Year Average","date":"2023-01-01","yield":0.0193},{"series":"5-Year Average","date":"2023-07-01","yield":0.0193},{"series":"5-Year Average","date":"2024-01-01","yield":0.0189},{"series":"5-Year Average","date":"2024-08-01","yield":0.0189},{"series":"5-Year Average","date":"2025-01-01","yield":0.0188},{"series":"5-Year Average","date":"2025-04-01","yield":0.0186},{"series":"5-Year Average","date":"2025-10-27","yield":0.0188}
    ],
    "dividendTable": [
      {"row":"head","col":"Year","text":"Year"},{"row":"head","col":"Dividend","text":"Dividend"},{"row":"head","col":"Growth","text":"Growth"},{"row":"head","col":"CAGR","text":"CAGR"},
      {"row":"2025","col":"Year","text":"2025"},{"row":"2025","col":"Dividend","text":"1.06"},{"row":"2025","col":"Growth","text":"17.78%"},{"row":"2025","col":"CAGR","text":""},
      {"row":"2024","col":"Year","text":"2024"},{"row":"2024","col":"Dividend","text":"0.90"},{"row":"2024","col":"Growth","text":"2.27%"},{"row":"2024","col":"CAGR","text":"17.78%"},
      {"row":"2023","col":"Year","text":"2023"},{"row":"2023","col":"Dividend","text":"0.88"},{"row":"2023","col":"Growth","text":"12.82%"},{"row":"2023","col":"CAGR","text":"9.75%"},
      {"row":"2022","col":"Year","text":"2022"},{"row":"2022","col":"Dividend","text":"0.78"},{"row":"2022","col":"Growth","text":"2.63%"},{"row":"2022","col":"CAGR","text":"10.77%"},
      {"row":"2021","col":"Year","text":"2021"},{"row":"2021","col":"Dividend","text":"0.76"},{"row":"2021","col":"Growth","text":"2.70%"},{"row":"2021","col":"CAGR","text":"8.67%"},
      {"row":"2020","col":"Year","text":"2020"},{"row":"2020","col":"Dividend","text":"0.74"},{"row":"2020","col":"Growth","text":"2.78%"},{"row":"2020","col":"CAGR","text":"7.45%"},
      {"row":"2019","col":"Year","text":"2019"},{"row":"2019","col":"Dividend","text":"0.72"},{"row":"2019","col":"Growth","text":"2.86%"},{"row":"2019","col":"CAGR","text":"6.66%"},
      {"row":"2018","col":"Year","text":"2018"},{"row":"2018","col":"Dividend","text":"0.70"},{"row":"2018","col":"Growth","text":"2.94%"},{"row":"2018","col":"CAGR","text":"6.11%"},
      {"row":"2017","col":"Year","text":"2017"},{"row":"2017","col":"Dividend","text":"0.68"},{"row":"2017","col":"Growth","text":"3.03%"},{"row":"2017","col":"CAGR","text":"5.71%"},
      {"row":"2016","col":"Year","text":"2016"},{"row":"2016","col":"Dividend","text":"0.66"},{"row":"2016","col":"Growth","text":"3.13%"},{"row":"2016","col":"CAGR","text":"5.41%"},
      {"row":"2015","col":"Year","text":"2015"},{"row":"2015","col":"Dividend","text":"0.64"},{"row":"2015","col":"Growth","text":"3.23%"},{"row":"2015","col":"CAGR","text":"5.18%"},
      {"row":"2014","col":"Year","text":"2014"},{"row":"2014","col":"Dividend","text":"0.62"},{"row":"2014","col":"Growth","text":"37.78%"},{"row":"2014","col":"CAGR","text":"5.00%"},
      {"row":"2013","col":"Year","text":"2013"},{"row":"2013","col":"Dividend","text":"0.45"},{"row":"2013","col":"Growth","text":""},{"row":"2013","col":"CAGR","text":"7.40%"}
    ]
  },
  "vconcat": [
    {"width": 1, "height": 12, "data": {"values": []}, "mark": "point"},
    {"width": 1338, "height": 2, "view": {"fill": "black", "stroke": null}, "data": {"values": []}, "mark": "point"},
    {"width": 1, "height": 16, "data": {"values": []}, "mark": "point"},
    {
      "spacing": 0, "bounds": "flush",
      "hconcat": [
        {"width": 232, "height": 96, "data": {"values": []}, "mark": "point"},
        {
          "width": 868, "height": 96,
          "data": {"name": "header"},
          "encoding": {"x": {"field": "metric", "type": "nominal", "scale": {"type": "point", "domain": ["Price", "Fair Price", "Valuation", "ROR"], "padding": 0.5}, "axis": null}},
          "layer": [
            {"transform": [{"filter": "datum.metric !== 'ROR'"}], "mark": {"type": "rule", "color": "black", "strokeWidth": 1.5, "xOffset": 106}},
            {"mark": {"type": "tick", "orient": "horizontal", "thickness": 2, "color": "black"},
             "encoding": {"size": {"field": "metric", "type": "ordinal", "scale": {"domain": ["Price", "Fair Price", "Valuation", "ROR"], "range": [152, 177, 179, 151]}, "legend": null}}},
            {"mark": {"type": "text", "dy": -23, "font": "Open Sans", "fontSize": 33, "fontWeight": "bold", "color": "black"}, "encoding": {"text": {"field": "metric"}}},
            {"transform": [{"filter": "datum.metric === 'Price'"}], "mark": {"type": "text", "dy": 26, "font": "Open Sans", "fontSize": 32, "fontWeight": "bold", "color": "#2f5597"}, "encoding": {"text": {"field": "value"}}},
            {"transform": [{"filter": "datum.metric === 'Fair Price'"}], "mark": {"type": "text", "dy": 26, "font": "Open Sans", "fontSize": 32, "color": "black"}, "encoding": {"text": {"field": "value"}}},
            {"transform": [{"filter": "datum.metric === 'Valuation'"}], "mark": {"type": "text", "dy": 26, "font": "Open Sans", "fontSize": 32, "fontWeight": "bold", "color": "#548235"}, "encoding": {"text": {"field": "value"}}},
            {"transform": [{"filter": "datum.metric === 'ROR'"}], "mark": {"type": "text", "dy": 26, "font": "Open Sans", "fontSize": 32, "fontWeight": "bold", "color": "#70ad47"}, "encoding": {"text": {"field": "value"}}}
          ]
        }
      ]
    },
    {"width": 1, "height": 12, "data": {"values": []}, "mark": "point"},
    {"width": 1338, "height": 2, "view": {"fill": "black", "stroke": null}, "data": {"values": []}, "mark": "point"},
    {"width": 1, "height": 29, "data": {"values": []}, "mark": "point"},
    {
      "spacing": 0, "bounds": "full",
      "resolve": {"scale": {"color": "independent", "strokeWidth": "independent"}, "legend": {"color": "independent", "strokeWidth": "independent"}},
      "hconcat": [
        {"width": 30, "height": 1, "data": {"values": []}, "mark": "point"},
        {
          "spacing": 0, "bounds": "flush",
          "vconcat": [
            {"width": 1, "height": 50, "data": {"values": []}, "mark": "point"},
            {
              "width": 387, "height": 162,
              "title": {"text": "Dividend Data", "font": "Open Sans", "fontSize": 38, "fontWeight": "bold", "color": "black", "anchor": "middle", "baseline": "alphabetic", "offset": -29},
              "data": {"name": "dividendData"},
              "transform": [{"filter": "datum.section === 'Dividend Data'"}],
              "encoding": {"y": {"field": "item", "type": "nominal", "sort": null, "scale": {"type": "point", "padding": 0.6875}, "axis": null}},
              "layer": [
                {"mark": {"type": "text", "font": "Open Sans", "fontSize": 25, "fontWeight": "bold", "color": "black"},
                 "encoding": {"x": {"datum": "label", "type": "nominal", "scale": {"type": "point", "domain": ["label", "value"], "padding": 0.396, "align": 0.556}, "axis": {"orient": "top", "labels": false, "ticks": false, "title": null, "grid": false, "domain": true, "domainColor": "black", "domainWidth": 2}}, "text": {"field": "item"}}},
                {"mark": {"type": "text", "font": "Open Sans", "fontSize": 24, "color": "black"},
                 "encoding": {"x": {"datum": "value", "type": "nominal", "axis": {"orient": "top", "labels": false, "ticks": false, "title": null, "grid": false, "domain": true, "domainColor": "black", "domainWidth": 2}}, "text": {"field": "value"}}}
              ]
            },
            {"width": 1, "height": 65, "data": {"values": []}, "mark": "point"},
            {
              "width": 387, "height": 145,
              "title": {"text": "Return Estimate", "font": "Open Sans", "fontSize": 38, "fontWeight": "bold", "color": "black", "anchor": "middle", "baseline": "alphabetic", "offset": -28},
              "data": {"name": "dividendData"},
              "transform": [{"filter": "datum.section === 'Return Estimate'"}],
              "encoding": {"y": {"field": "item", "type": "nominal", "sort": null, "scale": {"type": "point", "padding": 0.526, "align": 0.64}, "axis": null}},
              "layer": [
                {"mark": {"type": "text", "font": "Open Sans", "fontSize": 25, "fontWeight": "bold", "color": "black"},
                 "encoding": {"x": {"datum": "label", "type": "nominal", "scale": {"type": "point", "domain": ["label", "value"], "padding": 0.396, "align": 0.556}, "axis": {"orient": "top", "labels": false, "ticks": false, "title": null, "grid": false, "domain": true, "domainColor": "black", "domainWidth": 2}}, "text": {"field": "item"}}},
                {"mark": {"type": "text", "font": "Open Sans", "fontSize": 24, "color": "black"},
                 "encoding": {"x": {"datum": "value", "type": "nominal", "axis": {"orient": "top", "labels": false, "ticks": false, "title": null, "grid": false, "domain": true, "domainColor": "black", "domainWidth": 2}}, "text": {"field": "value"}}}
              ]
            },
            {
              "width": 387, "height": 64,
              "data": {"name": "dividendData"},
              "transform": [{"filter": "datum.section === 'Total'"}],
              "encoding": {"y": {"field": "item", "type": "nominal", "sort": null, "scale": {"type": "point"}, "axis": null}},
              "layer": [
                {"mark": {"type": "text", "font": "Open Sans", "fontSize": 25, "fontWeight": "bold", "color": "black"},
                 "encoding": {"x": {"datum": "label", "type": "nominal", "scale": {"type": "point", "domain": ["label", "value"], "padding": 0.396, "align": 0.556}, "axis": {"orient": "top", "labels": false, "ticks": false, "title": null, "grid": false, "domain": true, "domainColor": "black", "domainWidth": 2}}, "text": {"field": "item"}}},
                {"mark": {"type": "text", "font": "Open Sans", "fontSize": 25, "fontWeight": "bold", "color": "#6aa84f"},
                 "encoding": {"x": {"datum": "value", "type": "nominal", "axis": {"orient": "top", "labels": false, "ticks": false, "title": null, "grid": false, "domain": true, "domainColor": "black", "domainWidth": 2}}, "text": {"field": "value"}}}
              ]
            }
          ]
        },
        {"width": 45, "height": 1, "data": {"values": []}, "mark": "point"},
        {
          "width": 837, "height": 486,
          "view": {"stroke": "#333333", "strokeWidth": 1.5},
          "title": {"text": "Dividend Yield Theory Valuation", "anchor": "start", "frame": "group", "dx": 26, "offset": -77, "baseline": "alphabetic", "font": "Liberation Sans", "fontSize": 27, "fontWeight": "bold", "color": "black"},
          "encoding": {
            "x": {"field": "date", "type": "temporal", "scale": {"type": "utc", "range": [49.3, 812.5]},
                  "axis": {"values": [{"year": 2019, "month": 1, "date": 1, "utc": true}, {"year": 2020, "month": 1, "date": 1, "utc": true}, {"year": 2021, "month": 1, "date": 1, "utc": true}, {"year": 2022, "month": 1, "date": 1, "utc": true}, {"year": 2023, "month": 1, "date": 1, "utc": true}, {"year": 2024, "month": 1, "date": 1, "utc": true}, {"year": 2025, "month": 1, "date": 1, "utc": true}],
                           "format": "%-m/%-d/%Y", "labelFont": "Liberation Sans", "labelFontSize": 8.2, "labelColor": "#444444", "labelPadding": 4, "ticks": false, "domain": true, "domainColor": "#bbbbbb", "domainWidth": 2, "grid": false, "offset": -80, "title": null, "labelFlush": false, "labelOverlap": false}}
          },
          "layer": [
            {
              "data": {"name": "yearStarts"},
              "mark": {"type": "rule", "color": "#e3e3e3", "strokeWidth": 1},
              "encoding": {
                "y": {"datum": 0, "type": "quantitative", "scale": {"domain": [0, 80], "range": [406, 72], "nice": false},
                      "axis": {"values": [0, 20, 40, 60, 80], "offset": -49.3, "domain": true, "domainColor": "#555555", "ticks": true, "tickColor": "#555555", "tickSize": 5, "labelFont": "Liberation Sans", "labelFontSize": 8.2, "labelColor": "#444444", "labelPadding": 3, "grid": true, "gridColor": "#e3e3e3", "title": null}},
                "y2": {"datum": 80}
              }
            },
            {
              "data": {"name": "dyt"},
              "mark": {"type": "line"},
              "encoding": {
                "y": {"field": "value", "type": "quantitative",
                      "axis": {"values": [0, 20, 40, 60, 80], "offset": -49.3, "domain": true, "domainColor": "#555555", "ticks": true, "tickColor": "#555555", "tickSize": 5, "labelFont": "Liberation Sans", "labelFontSize": 8.2, "labelColor": "#444444", "labelPadding": 3, "grid": true, "gridColor": "#e3e3e3", "title": null}},
                "color": {"field": "series", "type": "nominal", "scale": {"domain": ["Price", "Fair Value", "Undervalued", "Overvalued"], "range": ["#000000", "#4a86e8", "#4cee4c", "#f03a2e"]},
                          "legend": {"orient": "none", "legendX": 126, "legendY": 435, "direction": "horizontal", "title": null, "symbolType": "stroke", "symbolSize": 100, "symbolStrokeWidth": 3, "labelFont": "Liberation Sans", "labelFontSize": 26.5, "labelColor": "#222222", "labelOffset": -3, "columnPadding": 6, "labelLimit": 300}},
                "strokeWidth": {"field": "series", "type": "ordinal", "scale": {"domain": ["Price", "Fair Value", "Undervalued", "Overvalued"], "range": [1.3, 2, 2, 2]}, "legend": null}
              }
            }
          ]
        }
      ]
    },
    {"width": 1, "height": 46, "data": {"values": []}, "mark": "point"},
    {"width": 1338, "height": 2, "view": {"fill": "black", "stroke": null}, "data": {"values": []}, "mark": "point"},
    {"width": 1, "height": 29, "data": {"values": []}, "mark": "point"},
    {
      "spacing": 0, "bounds": "flush",
      "resolve": {"scale": {"color": "independent", "strokeWidth": "independent"}, "legend": {"color": "independent", "strokeWidth": "independent"}},
      "hconcat": [
        {"width": 43, "height": 1, "data": {"values": []}, "mark": "point"},
        {
          "width": 820, "height": 379,
          "view": {"stroke": "#999999", "strokeWidth": 1.5},
          "title": {"text": "Historical Dividend Yield", "anchor": "start", "frame": "group", "dx": 20, "offset": -70, "baseline": "alphabetic", "font": "Liberation Sans", "fontSize": 27, "fontWeight": "bold", "color": "black"},
          "encoding": {
            "x": {"field": "date", "type": "temporal", "scale": {"type": "utc", "range": [50.6, 801]},
                  "axis": {"values": [{"year": 2019, "month": 1, "date": 1, "utc": true}, {"year": 2020, "month": 1, "date": 1, "utc": true}, {"year": 2021, "month": 1, "date": 1, "utc": true}, {"year": 2022, "month": 1, "date": 1, "utc": true}, {"year": 2023, "month": 1, "date": 1, "utc": true}, {"year": 2024, "month": 1, "date": 1, "utc": true}, {"year": 2025, "month": 1, "date": 1, "utc": true}],
                           "format": "%-m/%-d/%Y", "labelFont": "Liberation Sans", "labelFontSize": 9, "labelColor": "#444444", "labelPadding": 4, "ticks": false, "domain": true, "domainColor": "#999999", "domainWidth": 1.5, "grid": false, "offset": -33, "title": null, "labelFlush": false, "labelOverlap": false}}
          },
          "layer": [
            {
              "data": {"name": "yearStarts"},
              "mark": {"type": "rule", "color": "#e3e3e3", "strokeWidth": 1},
              "encoding": {
                "y": {"datum": 0, "type": "quantitative", "scale": {"domain": [0, 0.04], "range": [346, 63], "nice": false},
                      "axis": {"values": [0, 0.01, 0.02, 0.03, 0.04], "format": ".2%", "offset": -50.6, "domain": false, "ticks": false, "labelFont": "Liberation Sans", "labelFontSize": 9, "labelColor": "#444444", "labelPadding": 5, "grid": true, "gridColor": "#e3e3e3", "title": null}},
                "y2": {"datum": 0.04}
              }
            },
            {
              "data": {"name": "hdy"},
              "mark": {"type": "line"},
              "encoding": {
                "y": {"field": "yield", "type": "quantitative",
                      "axis": {"values": [0, 0.01, 0.02, 0.03, 0.04], "format": ".2%", "offset": -50.6, "domain": false, "ticks": false, "labelFont": "Liberation Sans", "labelFontSize": 9, "labelColor": "#444444", "labelPadding": 5, "grid": true, "gridColor": "#e3e3e3", "title": null}},
                "color": {"field": "series", "type": "nominal", "scale": {"domain": ["Dividend Yield", "5-Year Average"], "range": ["#4a7fe3", "#e8433a"]}, "legend": null},
                "strokeWidth": {"field": "series", "type": "ordinal", "scale": {"domain": ["Dividend Yield", "5-Year Average"], "range": [1.5, 2.2]}, "legend": null}
              }
            }
          ]
        },
        {"width": 53, "height": 1, "data": {"values": []}, "mark": "point"},
        {
          "width": 76, "height": 393,
          "data": {"name": "dividendTable"},
          "transform": [{"filter": "datum.col === 'Year'"}],
          "encoding": {"y": {"field": "row", "type": "ordinal", "scale": {"domain": ["head", "2025", "2024", "2023", "2022", "2021", "2020", "2019", "2018", "2017", "2016", "2015", "2014", "2013"], "paddingInner": 0, "paddingOuter": 0}, "axis": null}},
          "layer": [
            {"mark": {"type": "rect", "stroke": "black", "strokeWidth": 1}, "encoding": {"fill": {"condition": {"test": "datum.row === 'head'", "value": "#c9daf8"}, "value": "#ffffff"}}},
            {"mark": {"type": "text", "font": "Lato", "fontSize": 18, "fontWeight": "bold", "color": "black"}, "encoding": {"text": {"field": "text"}}}
          ]
        },
        {
          "width": 102, "height": 393,
          "data": {"name": "dividendTable"},
          "transform": [{"filter": "datum.col === 'Dividend'"}],
          "encoding": {"y": {"field": "row", "type": "ordinal", "scale": {"domain": ["head", "2025", "2024", "2023", "2022", "2021", "2020", "2019", "2018", "2017", "2016", "2015", "2014", "2013"], "paddingInner": 0, "paddingOuter": 0}, "axis": null}},
          "layer": [
            {"mark": {"type": "rect", "stroke": "black", "strokeWidth": 1}, "encoding": {"fill": {"condition": {"test": "datum.row === 'head'", "value": "#c9daf8"}, "value": "#ffffff"}}},
            {"transform": [{"filter": "datum.row === 'head'"}], "mark": {"type": "text", "font": "Lato", "fontSize": 18, "fontWeight": "bold", "color": "black"}, "encoding": {"text": {"field": "text"}}},
            {"transform": [{"filter": "datum.row !== 'head'"}], "mark": {"type": "text", "font": "Lato", "fontSize": 18, "color": "black"}, "encoding": {"text": {"field": "text"}}}
          ]
        },
        {
          "width": 115, "height": 393,
          "data": {"name": "dividendTable"},
          "transform": [{"filter": "datum.col === 'Growth'"}],
          "encoding": {"y": {"field": "row", "type": "ordinal", "scale": {"domain": ["head", "2025", "2024", "2023", "2022", "2021", "2020", "2019", "2018", "2017", "2016", "2015", "2014", "2013"], "paddingInner": 0, "paddingOuter": 0}, "axis": null}},
          "layer": [
            {"mark": {"type": "rect", "stroke": "black", "strokeWidth": 1}, "encoding": {"fill": {"condition": {"test": "datum.row === 'head'", "value": "#c9daf8"}, "value": "#ffffff"}}},
            {"transform": [{"filter": "datum.row === 'head'"}], "mark": {"type": "text", "font": "Lato", "fontSize": 18, "fontWeight": "bold", "color": "black"}, "encoding": {"text": {"field": "text"}}},
            {"transform": [{"filter": "datum.row !== 'head'"}], "mark": {"type": "text", "font": "Lato", "fontSize": 18, "color": "black"}, "encoding": {"text": {"field": "text"}}}
          ]
        },
        {
          "width": 91, "height": 393,
          "data": {"name": "dividendTable"},
          "transform": [{"filter": "datum.col === 'CAGR'"}],
          "encoding": {"y": {"field": "row", "type": "ordinal", "scale": {"domain": ["head", "2025", "2024", "2023", "2022", "2021", "2020", "2019", "2018", "2017", "2016", "2015", "2014", "2013"], "paddingInner": 0, "paddingOuter": 0}, "axis": null}},
          "layer": [
            {"mark": {"type": "rect", "stroke": "black", "strokeWidth": 1}, "encoding": {"fill": {"condition": {"test": "datum.row === 'head'", "value": "#c9daf8"}, "value": "#ffffff"}}},
            {"transform": [{"filter": "datum.row === 'head'"}], "mark": {"type": "text", "font": "Lato", "fontSize": 18, "fontWeight": "bold", "color": "black"}, "encoding": {"text": {"field": "text"}}},
            {"transform": [{"filter": "datum.row !== 'head'"}], "mark": {"type": "text", "font": "Lato", "fontSize": 18, "color": "black"}, "encoding": {"text": {"field": "text"}}}
          ]
        }
      ]
    },
    {"width": 1, "height": 45, "data": {"values": []}, "mark": "point"},
    {"width": 1338, "height": 2, "view": {"fill": "black", "stroke": null}, "data": {"values": []}, "mark": "point"},
    {"width": 1, "height": 12, "data": {"values": []}, "mark": "point"}
  ]
}
